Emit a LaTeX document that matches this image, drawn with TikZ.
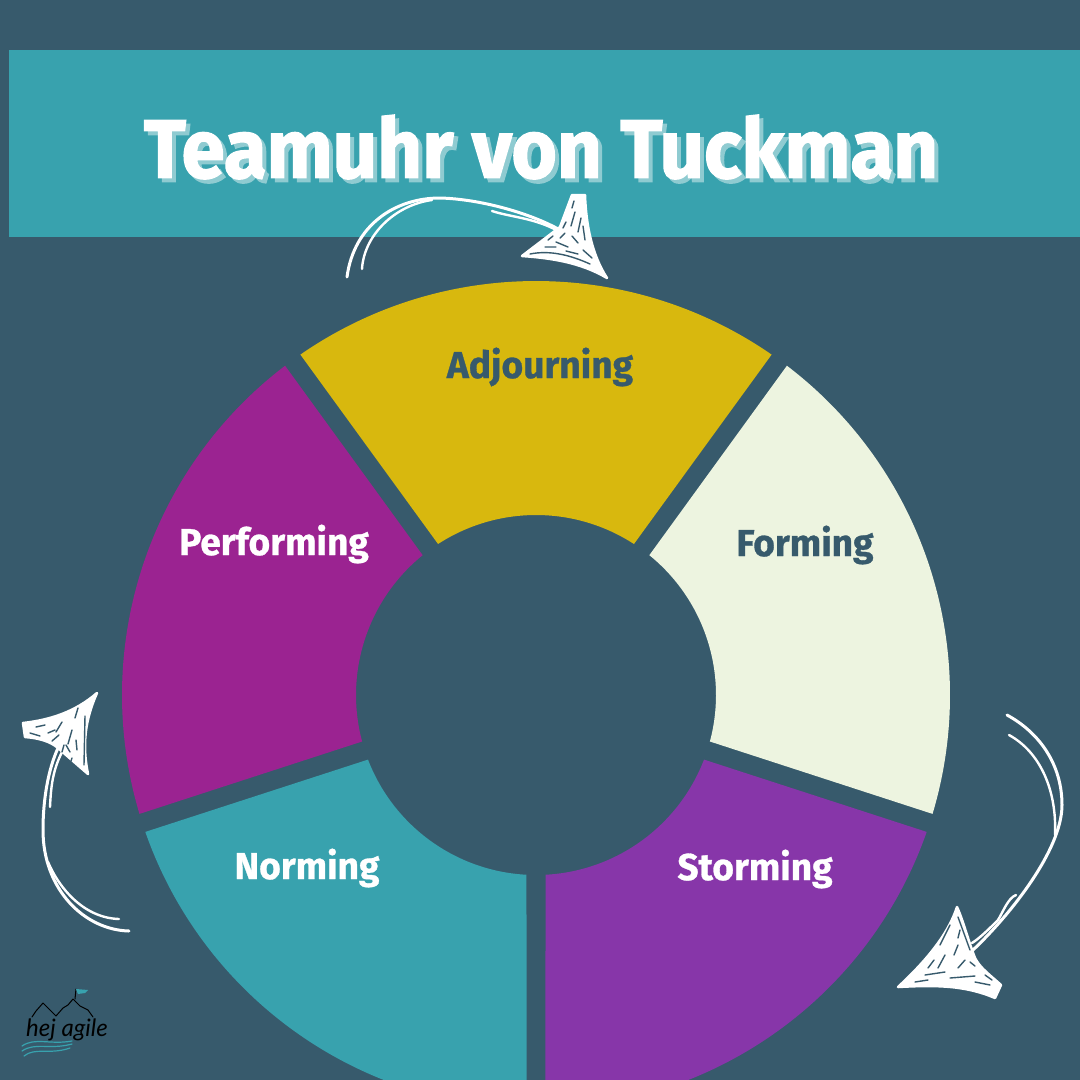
\documentclass[tikz,border=0pt]{standalone}
\usepackage{fontspec}
\setmainfont{Fira Sans}
\newfontfamily\logofont{Lato}
\newfontfamily\ttlfont[BoldFeatures={FakeBold=1.6,FakeStretch=0.94}]{Fira Sans}
\newfontfamily\labfont[BoldFeatures={FakeBold=0.8,FakeStretch=0.99}]{Fira Sans}
\definecolor{bgc}{HTML}{375A6C}
\definecolor{tealc}{HTML}{38A2AE}
\definecolor{yellowc}{HTML}{D8B80E}
\definecolor{creamc}{HTML}{EDF4E0}
\definecolor{perfc}{HTML}{9B2391}
\definecolor{stormc}{HTML}{8736A9}
\definecolor{shadowc}{HTML}{8FCBD1}
\newcommand{\ringsector}[3]{%
  \fill[#3] (#1+1.31:414) arc[start angle=#1+1.31,end angle=#2-1.31,radius=414]
    -- (#2-3.03:180) arc[start angle=#2-3.03,end angle=#1+3.03,radius=180] -- cycle;}
\tikzset{
  lab/.style={font=\labfont\bfseries\fontsize{37.5}{40}\selectfont,inner sep=0pt},
  ttl/.style={font=\ttlfont\bfseries\fontsize{83}{90}\selectfont,inner sep=0pt},
  sketch/.style={draw=white,line width=3pt,line cap=round,line join=round},
  sketchb/.style={draw=white,line width=2.4pt,line cap=round,line join=round},
  headf/.style={fill=white,draw=white,line width=2.5pt,line join=round},
  scrib/.style={draw=bgc,line width=1.4pt,line cap=round},
  wave/.style={draw=tealc,line width=1.2pt,line cap=round},
  mount/.style={draw=black,line width=1pt,line join=round,line cap=round}
}
\begin{document}
\begin{tikzpicture}[x=1pt,y=-1pt]
\path[use as bounding box,clip] (0,0) rectangle (1080,1080);
\fill[bgc] (0,0) rectangle (1080,1080);
\fill[tealc] (9,50) rectangle (1080,237);
\node[ttl,text=shadowc] (titleshadow) at (545,151) {Teamuhr von Tuckman};
\node[ttl,text=white] (title) at (541,147) {Teamuhr von Tuckman};
\begin{scope}[shift={(536,695)},x=1pt,y=1pt]
  \ringsector{54}{126}{yellowc}
  \ringsector{126}{198}{perfc}
  \ringsector{198}{270}{tealc}
  \ringsector{270}{342}{stormc}
  \ringsector{342}{414}{creamc}
\end{scope}
\node[lab,text=bgc] (adj) at (540,367) {Adjourning};
\node[lab,text=white] (perf) at (274,544) {Performing};
\node[lab,text=bgc] (form) at (805,545) {Forming};
\node[lab,text=white] (norm) at (307,868) {Norming};
\node[lab,text=white] (storm) at (755,869) {Storming};
% top arrow
\draw[sketch] (347,277) .. controls (354,225) and (395,198) .. (440,198) .. controls (480,199) and (530,213) .. (560,230);
\draw[sketchb] (362,269) .. controls (364,235) and (395,205) .. (432,200);
\draw[sketchb] (492,211) .. controls (510,217) and (535,218) .. (558,231);
\draw[headf] (607,278) .. controls (580,262) and (550,258) .. (522,256) -- (560,227) -- (572,195) -- (585,195) .. controls (586,225) and (592,255) .. (607,278) -- cycle;
\draw[scrib] (530,254) .. controls (550,250) and (570,255) .. (590,264);
\draw[scrib] (556,242) -- (568,247) (572,236) -- (578,243) (575,212) -- (571,226) (581,218) -- (578,232) (565,233) -- (560,238) (583,250) -- (592,258) (574,201) -- (572,208) (548,240) -- (553,236) (545,247) -- (556,247) (566,251) -- (578,254) (583,226) -- (585,240) (566,222) -- (563,228);
% left arrow
\draw[sketch] (129,931) .. controls (85,930) and (43,890) .. (43,830) .. controls (43,800) and (48,770) .. (58,748);
\draw[sketchb] (119,919) .. controls (85,918) and (60,890) .. (48,862);
\draw[sketchb] (50,807) .. controls (51,785) and (53,770) .. (62,752);
\draw[headf] (97,693) .. controls (75,712) and (50,720) .. (23,723) -- (25,737) .. controls (38,738) and (50,741) .. (58,748) -- (88,774) .. controls (82,745) and (85,720) .. (97,693) -- cycle;
\draw[scrib] (85,716) -- (84,765);
\draw[scrib] (36,727) -- (45,725) (30,733) -- (40,736) (62,722) -- (56,732) (72,730) -- (68,744) (59,735) -- (52,741) (72,758) -- (70,764) (78,708) -- (75,718) (48,733) -- (55,730) (66,745) -- (70,752) (76,740) -- (77,750) (62,752) -- (64,745);
% right arrow
\draw[sketch] (1007,715) .. controls (1040,733) and (1062,765) .. (1062,805) .. controls (1062,850) and (1010,915) .. (973,950);
\draw[sketchb] (1009,735) .. controls (1040,752) and (1057,790) .. (1055,835);
\draw[sketchb] (1016,895) .. controls (1008,898) and (1003,912) .. (998,920) .. controls (990,928) and (980,938) .. (972,943);
\draw[headf] (957,907) .. controls (948,935) and (925,962) .. (898,987) .. controls (935,985) and (965,985) .. (995,998) -- (1001,985) .. controls (990,975) and (980,968) .. (975,958) .. controls (968,940) and (963,920) .. (957,907) -- cycle;
\draw[scrib] (958,917) -- (970,950);
\draw[scrib] (925,975) -- (945,972) (950,978) -- (975,976) (975,982) -- (990,985) (958,945) -- (954,955) (945,955) -- (938,968) (965,960) -- (958,968) (970,962) -- (975,966) (950,925) -- (940,945) (915,982) -- (928,980) (985,975) -- (992,980) (960,930) -- (958,938) (928,968) -- (934,960);
% logo
\draw[mount] (32,1017) -- (36,1011) -- (43,1003) -- (50,1010) -- (56,1016) -- (63,1008) -- (68,1005) -- (73,999) -- (80,1006) -- (88,1010) -- (93,1017);
\draw[mount] (75,999) -- (76,989);
\fill[tealc] (76,989) -- (88,990) -- (85,993) -- (78,994) -- cycle;
\node[font=\logofont\itshape\fontsize{24}{24}\selectfont,text=black,inner sep=0pt] (logotext) at (67,1030) {hej agile};
\draw[wave] (22,1051) .. controls (35,1042) and (50,1050) .. (72,1044);
\draw[wave] (22,1046) .. controls (35,1037) and (50,1045) .. (72,1041);
\draw[wave] (24,1056) .. controls (35,1047) and (50,1055) .. (70,1048);
\end{tikzpicture}
\end{document}
